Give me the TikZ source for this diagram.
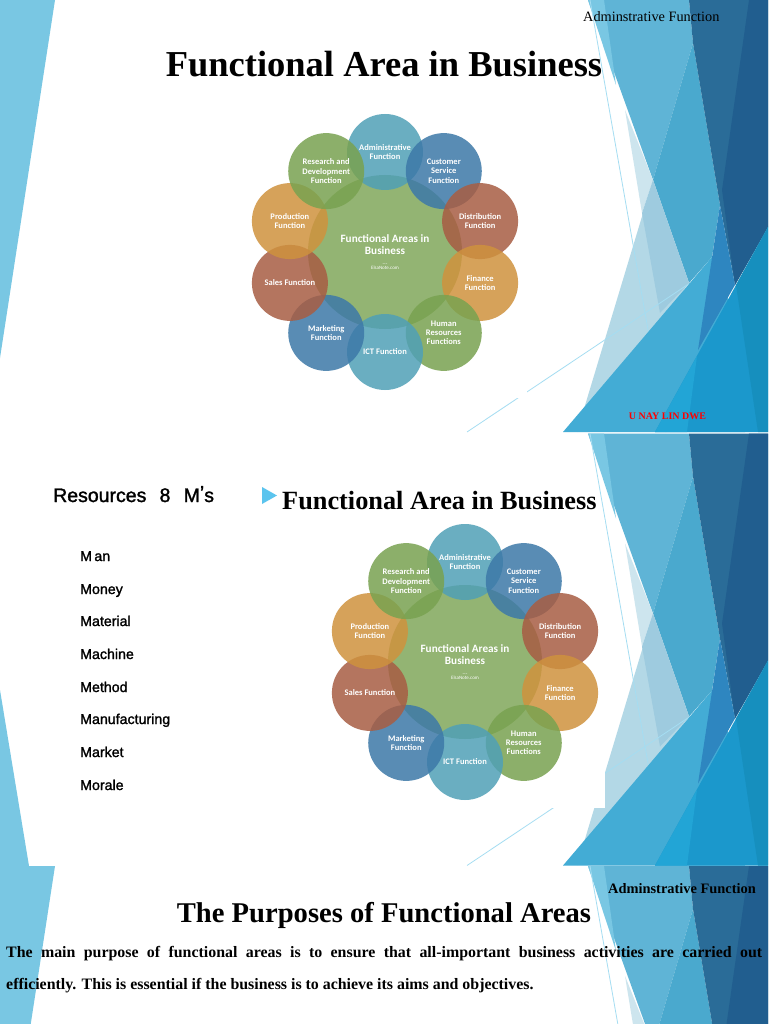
\documentclass[tikz,border=0pt]{standalone}
\usepackage{fontspec}
\setmainfont{Liberation Serif}
\setsansfont{Liberation Sans}
\newfontfamily\wheelfont{Carlito}
\newfontfamily\listfont[FakeBold=1.5]{Liberation Sans}
\definecolor{edgeblue}{HTML}{79C7E3}
\definecolor{bandblue}{HTML}{5FB4D6}
\definecolor{midblue}{HTML}{4AA9CE}
\definecolor{palewedge}{HTML}{CDE5EE}
\definecolor{paleblue}{HTML}{B3D8E6}
\definecolor{greyblue}{HTML}{9ECBDF}
\definecolor{darkband}{HTML}{2A6C98}
\definecolor{deepband}{HTML}{215E8F}
\definecolor{steelblue}{HTML}{2E86C0}
\definecolor{backtri}{HTML}{43ACD5}
\definecolor{fronttri}{HTML}{1B98CC}
\definecolor{frontlight}{HTML}{22A5D6}
\definecolor{frontdark}{HTML}{168FBE}
\definecolor{hairline}{HTML}{A5DDF2}
\definecolor{wheelteal}{HTML}{50A0B7}
\definecolor{wheelblue}{HTML}{3D79A8}
\definecolor{wheelred}{HTML}{A85D43}
\definecolor{wheelorange}{HTML}{CF923E}
\definecolor{wheelgreen}{HTML}{79A250}
\definecolor{bullet}{HTML}{5BC4EE}
\tikzset{
  petal/.style={circle,minimum size=76pt,inner sep=0pt,fill opacity=.85,text opacity=1,
    text=white,align=center,font=\wheelfont\bfseries\fontsize{8.5}{9.2}\selectfont},
  hub/.style={petal,fill opacity=.8,minimum size=154pt,font=\wheelfont\bfseries\fontsize{11.2}{12}\selectfont},
  notetext/.style={inner sep=0pt,text=white,align=center,font=\wheelfont\fontsize{5}{4}\selectfont},
  titletext/.style={anchor=base,inner sep=0pt,font=\bfseries\fontsize{36.5}{38}\selectfont},
  headertext/.style={anchor=base west,inner sep=0pt},
  listtext/.style={anchor=base west,inner sep=0pt,font=\listfont\fontsize{14.2}{16}\selectfont}
}
\newcommand{\slideback}[1]{%
  \begin{scope}[shift={(0,#1)}]
    \clip (0,0) rectangle (768,432);
    \fill[bandblue] (588,0) -- (689,0) -- (693,43) -- (653,180) -- cycle;
    \fill[edgeblue] (588,0) -- (604,0) -- (616,85) -- cycle;
    \fill[midblue] (693,43) -- (653,180) -- (689,283) -- (712,257) -- (720,205) -- cycle;
    \fill[palewedge] (625,110) -- (653,180) -- (642,213) -- cycle;
    \fill[paleblue] (653,180) -- (689,283) -- (577,432) -- cycle;
    \fill[greyblue] (642,213) -- (653,180) -- (689,283) -- (660,313) -- cycle;
    \fill[darkband] (689,0) -- (768,0) -- (768,227) -- (735,285) -- (720,205) -- (693,43) -- cycle;
    \fill[deepband] (749,0) -- (768,0) -- (768,227) -- (735,285) -- (722,190) -- cycle;
    \draw[hairline,line width=.8pt] (467,432) -- (690,283);
    \draw[hairline,line width=.8pt] (590,0) -- (666,432);
    \fill[backtri] (563,432) -- (712,257) -- (736,320) -- (745,432) -- cycle;
    \fill[steelblue] (720,205) -- (735,285) -- (698,350) -- cycle;
    \fill[fronttri] (655,432) -- (768,227) -- (768,432) -- cycle;
    \fill[frontlight] (655,432) -- (697,356) -- (687,432) -- cycle;
    \fill[frontdark] (736,285) -- (758,432) -- (768,432) -- (768,227) -- cycle;
  \end{scope}}
\newcommand{\wheel}[3]{%
  \begin{scope}[shift={(#2,#3)}]
    \node[hub,fill=wheelgreen] (#1hub) at (0,0) {Functional Areas in\\Business\\[2pt]};
    \node[notetext] (#1note) at (0,15) {---\\ElsaNote.com};
    \foreach \ang/\colr/\pname/\lab in {
      90/wheelteal/admin/{Administrative\\Function},
      54/wheelblue/customer/{Customer\\Service\\Function},
      18/wheelred/distribution/{Distribution\\Function},
      -18/wheelorange/finance/{Finance\\Function},
      -54/wheelgreen/human/{Human\\Resources\\Functions},
      -90/wheelteal/ict/{ICT Function},
      -126/wheelblue/marketing/{Marketing\\Function},
      -162/wheelred/sales/{Sales Function},
      162/wheelorange/production/{Production\\Function},
      126/wheelgreen/research/{Research and\\Development\\Function}}
      {\node[petal,fill=\colr] (#1\pname) at ({100*cos(\ang)},{-100*sin(\ang)}) {\lab};}
  \end{scope}}
\begin{document}
\begin{tikzpicture}[x=1pt,y=-1pt]
  \useasboundingbox (0,0) rectangle (768,1024);
  \fill[white] (0,0) rectangle (768,1024);
  \slideback{0}
  \slideback{433.5}
  \slideback{866}
  \fill[edgeblue] (0,0) -- (55,0) -- (0,358) -- cycle;
  \fill[edgeblue] (0,866) -- (55,866) -- (24.3,1066) -- (0,1066) -- cycle;
  \fill[white] (230,100) rectangle (527,398);
  \fill[white] (300,520) rectangle (605,808);
  \fill[edgeblue] (0,690) -- (29,866) -- (0,866) -- cycle;
  \wheel{one}{385}{252}
  \wheel{two}{465}{662}
  \node[headertext,font=\fontsize{14.3}{16}\selectfont] (headone) at (583,22) {Adminstrative Function};
  \node[titletext] (titleone) at (384,77) {Functional Area in Business};
  \node[anchor=base,inner sep=0pt,text=red,font=\bfseries\fontsize{10}{12}\selectfont] (author) at (667.5,419) {U NAY LIN DWE};
  \node[headertext,font=\listfont\fontsize{19.5}{22}\selectfont] (resources) at (53,502) {Resources\hspace{.4em} 8\hspace{.4em} M\raisebox{.25ex}{’}s};
  \node[listtext] (mman) at (80,561) {M\,an};
  \node[listtext] (mmoney) at (80,594) {Money};
  \node[listtext] (mmaterial) at (80,626) {Material};
  \node[listtext] (mmachine) at (80,659) {Machine};
  \node[listtext] (mmethod) at (80,692) {Method};
  \node[listtext] (mmanufacturing) at (80,724) {Manufacturing};
  \node[listtext] (mmarket) at (80,757) {Market};
  \node[listtext] (mmorale) at (80,790) {Morale};
  \fill[bullet] (262,487) -- (277,495.5) -- (262,504) -- cycle;
  \node[headertext,font=\bfseries\fontsize{26.3}{28}\selectfont] (titletwo) at (282,509) {Functional Area in Business};
  \node[headertext,font=\bfseries\fontsize{14.4}{16}\selectfont] (headthree) at (608,893) {Adminstrative Function};
  \node[titletext,font=\bfseries\fontsize{28.6}{30}\selectfont] (titlethree) at (384,922) {The Purposes of Functional Areas};
  \node[anchor=north west,inner sep=0pt,text width=756pt,align=justify,
    font=\bfseries\fontsize{15.9}{32.5}\selectfont] (purpose) at (6,946)
    {The main purpose of functional areas is to ensure that all-important business activities are carried out\linebreak
    efficiently. This is essential if the business is to achieve its aims and objectives.};
\end{tikzpicture}
\end{document}
